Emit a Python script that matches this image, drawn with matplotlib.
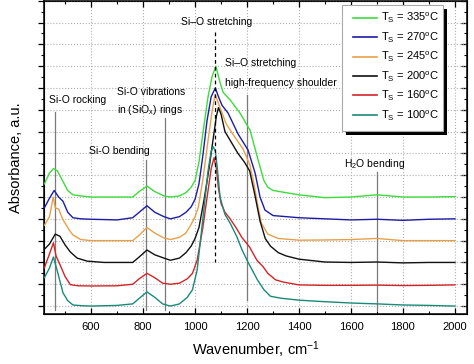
import numpy as np
import matplotlib
matplotlib.use('Agg')
import matplotlib.pyplot as plt
from matplotlib.ticker import MultipleLocator
from matplotlib.patches import Rectangle

plt.rcParams['font.family'] = ['Liberation Sans', 'DejaVu Sans']
plt.rcParams['mathtext.fontset'] = 'custom'
plt.rcParams['mathtext.rm'] = 'Liberation Sans'
plt.rcParams['mathtext.it'] = 'Liberation Sans:italic'

# --- data (absorbance, offset spectra) ---
temps = ['335', '270', '245', '200', '160', '100']
colors = ['#3ddc3d', '#1c1ca8', '#e8a048', '#111111', '#d42428', '#1a8a78']

wn_335 = [420, 440, 455, 470, 490, 510, 530, 560, 600, 700, 760, 785, 815, 845, 880, 905, 940, 965, 985,
          1000, 1015, 1031, 1050, 1065, 1080, 1095, 1108, 1135, 1173, 1212, 1238, 1252, 1265, 1280, 1300, 1350,
          1400, 1500, 1600, 1700, 1800, 1900, 2000]
ab_335 = [5.6, 6.1, 6.3, 6.2, 5.75, 5.3, 5.1, 5.05, 5.0, 5.0, 5.0, 5.25, 5.5, 5.25, 5.05, 5.0, 5.05, 5.2, 5.45,
          5.75, 6.6, 8.0, 9.6, 10.5, 11.0, 10.3, 9.8, 9.45, 8.85, 8.05, 6.9, 6.3, 5.75, 5.45, 5.3, 5.2,
          5.1, 4.97, 5.0, 5.1, 5.0, 5.0, 5.02]

wn_270 = [420, 440, 458, 475, 492, 510, 530, 560, 600, 700, 760, 785, 815, 845, 880, 905, 940, 965, 985,
          1000, 1015, 1030, 1046, 1062, 1078, 1090, 1104, 1127, 1165, 1204, 1231, 1250, 1269, 1300, 1350,
          1400, 1500, 1600, 1700, 1800, 1900, 2000]
ab_270 = [4.5, 4.95, 5.3, 5.0, 4.8, 4.3, 4.05, 4.0, 3.98, 3.95, 4.05, 4.3, 4.6, 4.3, 4.1, 4.0, 4.1, 4.3, 4.55,
          4.9, 5.6, 6.9, 8.5, 9.6, 10.0, 9.6, 9.2, 8.85, 7.9, 7.15, 6.1, 5.0, 4.4, 4.15, 4.1,
          4.05, 4.0, 3.95, 3.98, 3.93, 3.98, 4.0]

wn_245 = [420, 440, 454, 462, 475, 490, 500, 515, 530, 560, 600, 700, 760, 785, 815, 845, 880, 905, 940, 965,
          985, 1000, 1012, 1030, 1050, 1065, 1077, 1090, 1104, 1120, 1150, 1185, 1210, 1225, 1240, 1255,
          1280, 1320, 1400, 1500, 1600, 1700, 1750, 1800, 1900, 2000]
ab_245 = [3.7, 4.1, 5.0, 4.5, 4.45, 4.0, 3.8, 3.5, 3.26, 3.05, 3.0, 3.0, 3.0, 3.25, 3.6, 3.35, 3.12, 3.05, 3.15, 3.35,
          3.75, 4.1, 4.5, 5.8, 7.6, 8.9, 9.7, 9.3, 8.85, 8.35, 7.8, 7.2, 6.5, 5.7, 4.7, 3.8,
          3.3, 3.1, 3.02, 3.03, 3.05, 3.1, 3.05, 3.0, 3.0, 3.0]

wn_200 = [420, 440, 462, 480, 500, 520, 546, 585, 650, 760, 785, 815, 845, 880, 905, 940, 965, 985, 1000,
          1015, 1035, 1055, 1070, 1082, 1090, 1100, 1115, 1140, 1165, 1190, 1210, 1230, 1250, 1270, 1290,
          1320, 1350, 1400, 1500, 1600, 1700, 1800, 1900, 2000]
ab_200 = [2.6, 2.85, 3.3, 3.2, 2.8, 2.48, 2.2, 2.06, 2.0, 2.0, 2.25, 2.57, 2.35, 2.2, 2.1, 2.2, 2.45, 2.75, 3.1,
          3.6, 4.9, 6.4, 7.7, 8.7, 9.1, 8.8, 8.0, 7.5, 7.0, 6.6, 6.2, 5.1, 3.9, 3.1, 2.75,
          2.45, 2.3, 2.15, 2.02, 2.0, 2.02, 1.98, 2.0, 2.0]

wn_160 = [420, 440, 455, 465, 480, 500, 520, 550, 600, 700, 760, 785, 815, 845, 875, 905, 940, 970, 990,
          1008, 1030, 1050, 1062, 1073, 1082, 1090, 1100, 1115, 1135, 1160, 1180, 1210, 1238, 1262, 1280,
          1310, 1340, 1400, 1500, 1600, 1700, 1800, 1900, 2000]
ab_160 = [1.75, 2.4, 2.9, 2.3, 1.9, 1.35, 0.98, 0.93, 0.92, 0.93, 1.0, 1.25, 1.5, 1.3, 1.05, 1.0, 1.05, 1.25, 1.5,
          2.1, 3.6, 5.3, 6.3, 6.8, 6.3, 5.4, 4.7, 4.3, 4.0, 3.55, 3.15, 2.7, 2.1, 1.8, 1.5,
          1.2, 1.1, 0.97, 0.95, 0.95, 0.96, 0.94, 0.95, 0.97]

wn_100 = [420, 440, 455, 470, 492, 510, 530, 560, 600, 700, 760, 785, 815, 845, 875, 905, 940, 970, 990,
          1008, 1030, 1050, 1062, 1070, 1078, 1085, 1096, 1115, 1135, 1160, 1180, 1200, 1220, 1240, 1265,
          1290, 1330, 1400, 1500, 1600, 1700, 1800, 1900, 2000]
ab_100 = [1.3, 1.75, 2.25, 1.6, 0.6, 0.25, 0.05, 0.02, 0.0, 0.03, 0.1, 0.35, 0.65, 0.4, 0.1, 0.0, 0.1, 0.4, 0.75,
          1.65, 4.0, 6.2, 7.1, 7.3, 7.1, 6.4, 5.0, 4.2, 3.8, 3.2, 2.6, 2.1, 1.65, 1.2, 0.75,
          0.45, 0.36, 0.27, 0.2, 0.14, 0.1, 0.05, 0.03, 0.0]

wavenumbers = [wn_335, wn_270, wn_245, wn_200, wn_160, wn_100]
absorbances = [ab_335, ab_270, ab_245, ab_200, ab_160, ab_100]

fig = plt.figure(figsize=(4.74, 3.64), dpi=100)
ax = fig.add_axes([0.093, 0.137, 0.892, 0.861])

for wn, ab, c in zip(wavenumbers, absorbances, colors):
    ax.plot(wn, ab, color=c, lw=1.0, zorder=3)

# band marker lines
gray = '#7a7a7a'
ax.plot([461, 461], [8.9, -0.18], color=gray, lw=0.9, zorder=2)
ax.plot([811, 811], [6.7, -0.18], color=gray, lw=0.9, zorder=2)
ax.plot([885, 885], [8.6, -0.18], color=gray, lw=0.9, zorder=2)
ax.plot([1200, 1200], [9.7, 0.3], color=gray, lw=0.9, zorder=2)
ax.plot([1700, 1700], [6.15, -0.18], color=gray, lw=0.9, zorder=2)
ax.plot([1077, 1077], [12.57, 2.0], color='k', lw=0.9, ls=(0, (3, 2.5)), zorder=4)

fs = 7.5
ax.text(438, 9.45, 'Si-O rocking', fontsize=fs, va='center')
ax.text(700, 9.82, 'Si-O vibrations', fontsize=fs, va='center')
ax.text(700, 9.0, r'in (SiO$_\mathrm{x}$) rings', fontsize=fs, va='center')
ax.text(592, 7.1, 'Si-O bending', fontsize=fs, va='center')
ax.text(946, 13.03, 'Si–O stretching', fontsize=fs, va='center')
ax.text(1115, 11.15, 'Si–O stretching', fontsize=fs, va='center')
ax.text(1115, 10.23, 'high-frequency shoulder', fontsize=fs, va='center')
ax.text(1573, 6.51, r'H$_\mathrm{2}$O bending', fontsize=fs, va='center')

ax.set_xlim(419, 2046)
ax.set_ylim(-0.37, 14.0)
ax.xaxis.set_major_locator(MultipleLocator(200))
ax.xaxis.set_minor_locator(MultipleLocator(100))
ax.yaxis.set_major_locator(MultipleLocator(1))
ax.yaxis.set_minor_locator(MultipleLocator(0.5))
ax.set_yticklabels([])
ax.tick_params(axis='x', which='both', direction='in', top=True, labelsize=8, pad=6)
ax.tick_params(axis='y', which='both', direction='out', right=False)
ax.tick_params(which='major', length=4, width=0.9)
ax.tick_params(which='minor', length=2.5, width=0.8)
ax.grid(True, which='major', color='#b0b0b0', ls=':', lw=0.8)
for s in ax.spines.values():
    s.set_linewidth(1.1)

# right-side inward ticks
ax2 = ax.twinx()
ax2.set_ylim(ax.get_ylim())
ax2.yaxis.set_major_locator(MultipleLocator(1))
ax2.yaxis.set_minor_locator(MultipleLocator(0.5))
ax2.tick_params(axis='y', which='both', direction='in', labelright=False)
ax2.tick_params(which='major', length=4, width=0.9)
ax2.tick_params(which='minor', length=2.5, width=0.8)
ax2.set_zorder(-1)
ax.patch.set_visible(False)

ax.set_xlabel(r'Wavenumber, cm$^{-1}$', fontsize=10.5, labelpad=5)
ax.set_ylabel('Absorbance, a.u.', fontsize=10.5, labelpad=8)

# legend box with black drop shadow (drawn by hand, axes coordinates)
tr = ax.transAxes
ax.add_patch(Rectangle((0.7140, 0.5720), 0.2388, 0.4023, transform=tr, facecolor='black',
                       edgecolor='none', zorder=9, clip_on=False))
ax.add_patch(Rectangle((0.7045, 0.5847), 0.2388, 0.4023, transform=tr, facecolor='white',
                       edgecolor='#aaaaaa', lw=0.8, zorder=10, clip_on=False))
row_y = 0.9457
for t, c in zip(temps, colors):
    ax.plot([0.7305, 0.7872], [row_y, row_y], color=c, lw=1.2, transform=tr, zorder=11, clip_on=False)
    ax.text(0.7967, row_y - 0.0125, r'T$_\mathrm{S}$ = ' + t + r'$^\mathrm{o}$C', fontsize=8,
            transform=tr, va='baseline', ha='left', zorder=11)
    row_y -= 0.0620

fig.savefig('out.png', dpi=100)
